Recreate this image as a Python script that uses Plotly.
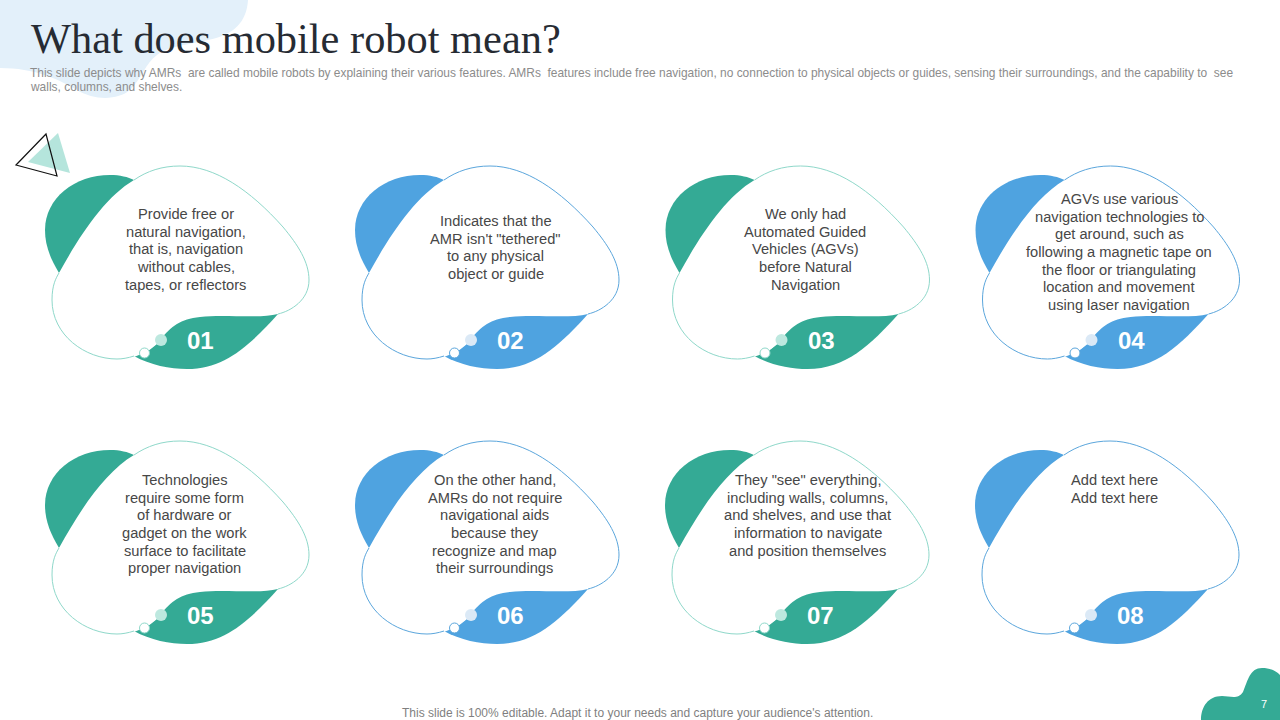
import plotly.graph_objects as go

TEAL = "#34aa95"
BLUE = "#4fa3e0"
TEAL_LINE = "#8fd8ca"
BLUE_LINE = "#5ba6dc"
TEAL_DOT = "#bde8df"
BLUE_DOT = "#dbe9f6"
TEXT = "#474747"

# card content
numbers = ["01", "02", "03", "04", "05", "06", "07", "08"]
card_dx = [0, 310, 620.5, 930.5, 0, 310, 620, 930]
card_dy = [0, 0, 0, 0, 275, 275, 275, 275]
palette = ["teal", "blue", "teal", "blue", "teal", "blue", "teal", "blue"]
text_x = [185.5, 495.5, 805, 1119, 184.5, 494.5, 807.5, 1114]
first_y = [214, 221, 214, 199, 480, 480, 480, 480]
card_lines = [
    ["Provide free or", "natural navigation,", "that is, navigation", "without cables,", "tapes, or reflectors"],
    ["Indicates that the", "AMR isn't \"tethered\"", "to any physical", "object or guide"],
    ["We only had", "Automated Guided", "Vehicles (AGVs)", "before Natural", "Navigation"],
    ["AGVs use various", "navigation technologies to", "get around, such as", "following a magnetic tape on",
     "the floor or triangulating", "location and movement", "using laser navigation"],
    ["Technologies", "require some form", "of hardware or", "gadget on the work", "surface to facilitate", "proper navigation"],
    ["On the other hand,", "AMRs do not require", "navigational aids", "because they", "recognize and map", "their surroundings"],
    ["They \"see\" everything,", "including walls, columns,", "and shelves, and use that",
     "information to navigate", "and position themselves"],
    ["Add text here", "Add text here"],
]
LINE_GAP = 17.65

title = "What does mobile robot mean?"
subtitle = [
    "This slide depicts why AMRs  are called mobile robots by explaining their various features. AMRs  features include free navigation, no connection to physical objects or guides, sensing their surroundings, and the capability to  see",
    "walls, columns, and shelves.",
]
footer = "This slide is 100% editable. Adapt it to your needs and capture your audience's attention."
page_no = "7"


def move(path, dx, dy):
    # path is a list of (command, x, y, x, y...) pieces for the first card
    out = []
    for piece in path:
        cmd, vals = piece[0], piece[1:]
        moved = [v + (dx if i % 2 == 0 else dy) for i, v in enumerate(vals)]
        out.append(cmd + " " + " ".join(f"{v:.1f}" for v in moved))
    return " ".join(out)


# blob outlines for card 01, moved for the others
left_lobe = [("M", 59, 273), ("C", 50, 258, 45, 245, 45, 230), ("C", 45, 198, 75, 175, 110, 175),
             ("C", 120, 175, 128, 177, 134, 180), ("L", 120, 230), ("Z",)]
bottom_lobe = [("M", 134, 356), ("C", 150, 365, 170, 369, 187, 369), ("C", 225, 369, 250, 345, 278, 314),
               ("L", 200, 300), ("L", 150, 320), ("Z",)]
white_blob = [("M", 134, 180), ("C", 147, 171, 162, 166, 180, 166), ("C", 215, 166, 250, 190, 283, 227),
              ("C", 298, 245, 309, 262, 309, 280), ("C", 309, 300, 291, 311, 278, 314),
              ("C", 258, 319, 225, 314, 200, 317), ("C", 180, 319, 172, 326, 160, 340),
              ("C", 150, 352, 135, 359, 117, 359), ("C", 85, 359, 52, 335, 52, 300),
              ("C", 52, 285, 56, 278, 59, 273), ("C", 80, 235, 105, 197, 134, 180), ("Z",)]
edge_upper = [("M", 134, 180), ("C", 147, 171, 162, 166, 180, 166), ("C", 215, 166, 250, 190, 283, 227),
              ("C", 298, 245, 309, 262, 309, 280), ("C", 309, 300, 291, 311, 278, 314)]
edge_lower = [("M", 134, 356), ("C", 128, 358, 122, 359, 117, 359), ("C", 85, 359, 52, 335, 52, 300),
              ("C", 52, 285, 56, 278, 59, 273)]

shapes = [
    # top left wash
    dict(type="path", path="M 0 0 L 248 0 C 247 16 240 29 222 36 C 200 44 172 44 157 55 C 145 64 142 78 130 90 C 118 100 95 101 77 90 C 58 79 35 68 0 68 Z",
         fillcolor="#e3f0fa", line_width=0, layer="below"),
    # corner blob
    dict(type="path", path="M 1201 720 C 1201 707 1208 696 1222 696 C 1230 696 1238 700 1243 692 C 1248 680 1250 668 1262 668 C 1270 668 1276 671 1280 675 L 1280 720 Z",
         fillcolor=TEAL, line_width=0, layer="below"),
    # triangles
    dict(type="path", path="M 58 133 L 28 162 L 70 173 Z", fillcolor="#b5e5dc", line_width=0, layer="below"),
    dict(type="path", path="M 46 134 L 16 165 L 57 176 Z", fillcolor="rgba(0,0,0,0)", line=dict(color="#111111", width=1.2), layer="below"),
]

for dx, dy, kind in zip(card_dx, card_dy, palette):
    fill = TEAL if kind == "teal" else BLUE
    edge = TEAL_LINE if kind == "teal" else BLUE_LINE
    for part in (left_lobe, bottom_lobe):
        shapes.append(dict(type="path", path=move(part, dx, dy), fillcolor=fill, line_width=0, layer="below"))
    shapes.append(dict(type="path", path=move(white_blob, dx, dy), fillcolor="white", line_width=0, layer="below"))
    for part in (edge_upper, edge_lower):
        shapes.append(dict(type="path", path=move(part, dx, dy), line=dict(color=edge, width=1), layer="below"))

fig = go.Figure()

# little connector with two dots on each card
for dx, dy, kind in zip(card_dx, card_dy, palette):
    fig.add_trace(go.Scatter(
        x=[144.5 + dx, 161 + dx], y=[353 + dy, 340 + dy], mode="lines",
        line=dict(color="white", width=1.5), hoverinfo="skip", showlegend=False))
    fig.add_trace(go.Scatter(
        x=[161 + dx], y=[340 + dy], mode="markers",
        marker=dict(size=12, color=TEAL_DOT if kind == "teal" else BLUE_DOT), hoverinfo="skip", showlegend=False))
    fig.add_trace(go.Scatter(
        x=[144.5 + dx], y=[353 + dy], mode="markers",
        marker=dict(size=10, color="white", line=dict(color=TEAL_LINE if kind == "teal" else BLUE_LINE, width=1)),
        hoverinfo="skip", showlegend=False))


def note(x, y, text, size, color, family="Liberation Sans", anchor="center", bold=False):
    fig.add_annotation(x=x, y=y, text=f"<b>{text}</b>" if bold else text, showarrow=False, xanchor=anchor,
                       yanchor="middle", font=dict(size=size, color=color, family=family))


note(29, 38, title, 42.4, "#262b33", family="Liberation Serif", anchor="left")
note(28, 73, subtitle[0], 11.94, "#8c8c8c", anchor="left")
note(28, 87, subtitle[1], 11.94, "#8c8c8c", anchor="left")
note(637.5, 713, footer, 12, "#7f7f7f")
note(1264, 704, page_no, 11, "white")

for i, lines in enumerate(card_lines):
    for j, line in enumerate(lines):
        note(text_x[i], first_y[i] + j * LINE_GAP, line, 14.67, TEXT)
    note(200.5 + card_dx[i], 340 + card_dy[i], numbers[i], 24, "white", bold=True)

fig.update_layout(
    width=1280, height=720, margin=dict(l=0, r=0, t=0, b=0),
    paper_bgcolor="white", plot_bgcolor="white", showlegend=False, shapes=shapes,
    xaxis=dict(range=[0, 1280], visible=False, fixedrange=True),
    yaxis=dict(range=[720, 0], visible=False, fixedrange=True),
)

# page margin would push the figure off by 8px
fig.write_html("out.html", config={"displayModeBar": False}, post_script="document.body.style.margin='0';")
